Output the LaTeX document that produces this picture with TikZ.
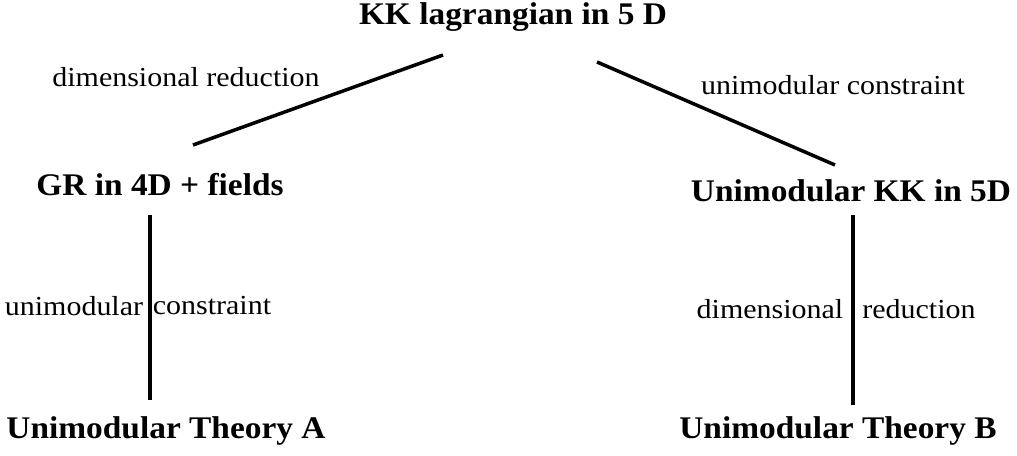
\documentclass[tikz,border=0pt]{standalone}
\usepackage{fontspec}
\setmainfont{Liberation Serif}
\begin{document}
\begin{tikzpicture}[x=1pt,y=-1pt,
  title/.style={font=\fontsize{31.5}{36}\selectfont\bfseries,inner sep=0pt,xscale=1.06},
  lab/.style={font=\fontsize{27.5}{32}\selectfont,inner sep=0pt,xscale=1.09},
  conn/.style={line width=3.5pt}]
\useasboundingbox (0,0) rectangle (1017,455);
\node[title] (kk) at (513,17) {KK lagrangian in 5 D};
\node[title] (gr) at (160,185) {GR in 4D + fields};
\node[title] (uk) at (851,191) {Unimodular KK in 5D};
\node[title] (ta) at (166,431) {Unimodular Theory A};
\node[title] (tb) at (838,431) {Unimodular Theory B};
\coordinate (a1) at (443,55); \coordinate (a2) at (193,145);
\coordinate (b1) at (597,62); \coordinate (b2) at (835,165);
\coordinate (c1) at (150,215); \coordinate (c2) at (150,400);
\coordinate (d1) at (853,215); \coordinate (d2) at (853,405);
\draw[conn] (a1) -- (a2);
\draw[conn] (b1) -- (b2);
\draw[conn] (c1) -- (c2);
\draw[conn] (d1) -- (d2);
\node[lab] (l1) at (186,77) {dimensional reduction};
\node[lab] (l2) at (833,85) {unimodular constraint};
\node[lab] (l3) at (74,306) {unimodular};
\node[lab] (l4) at (212,306) {constraint};
\node[lab] (l5) at (770,309) {dimensional};
\node[lab] (l6) at (919,309) {reduction};
\end{tikzpicture}
\end{document}
